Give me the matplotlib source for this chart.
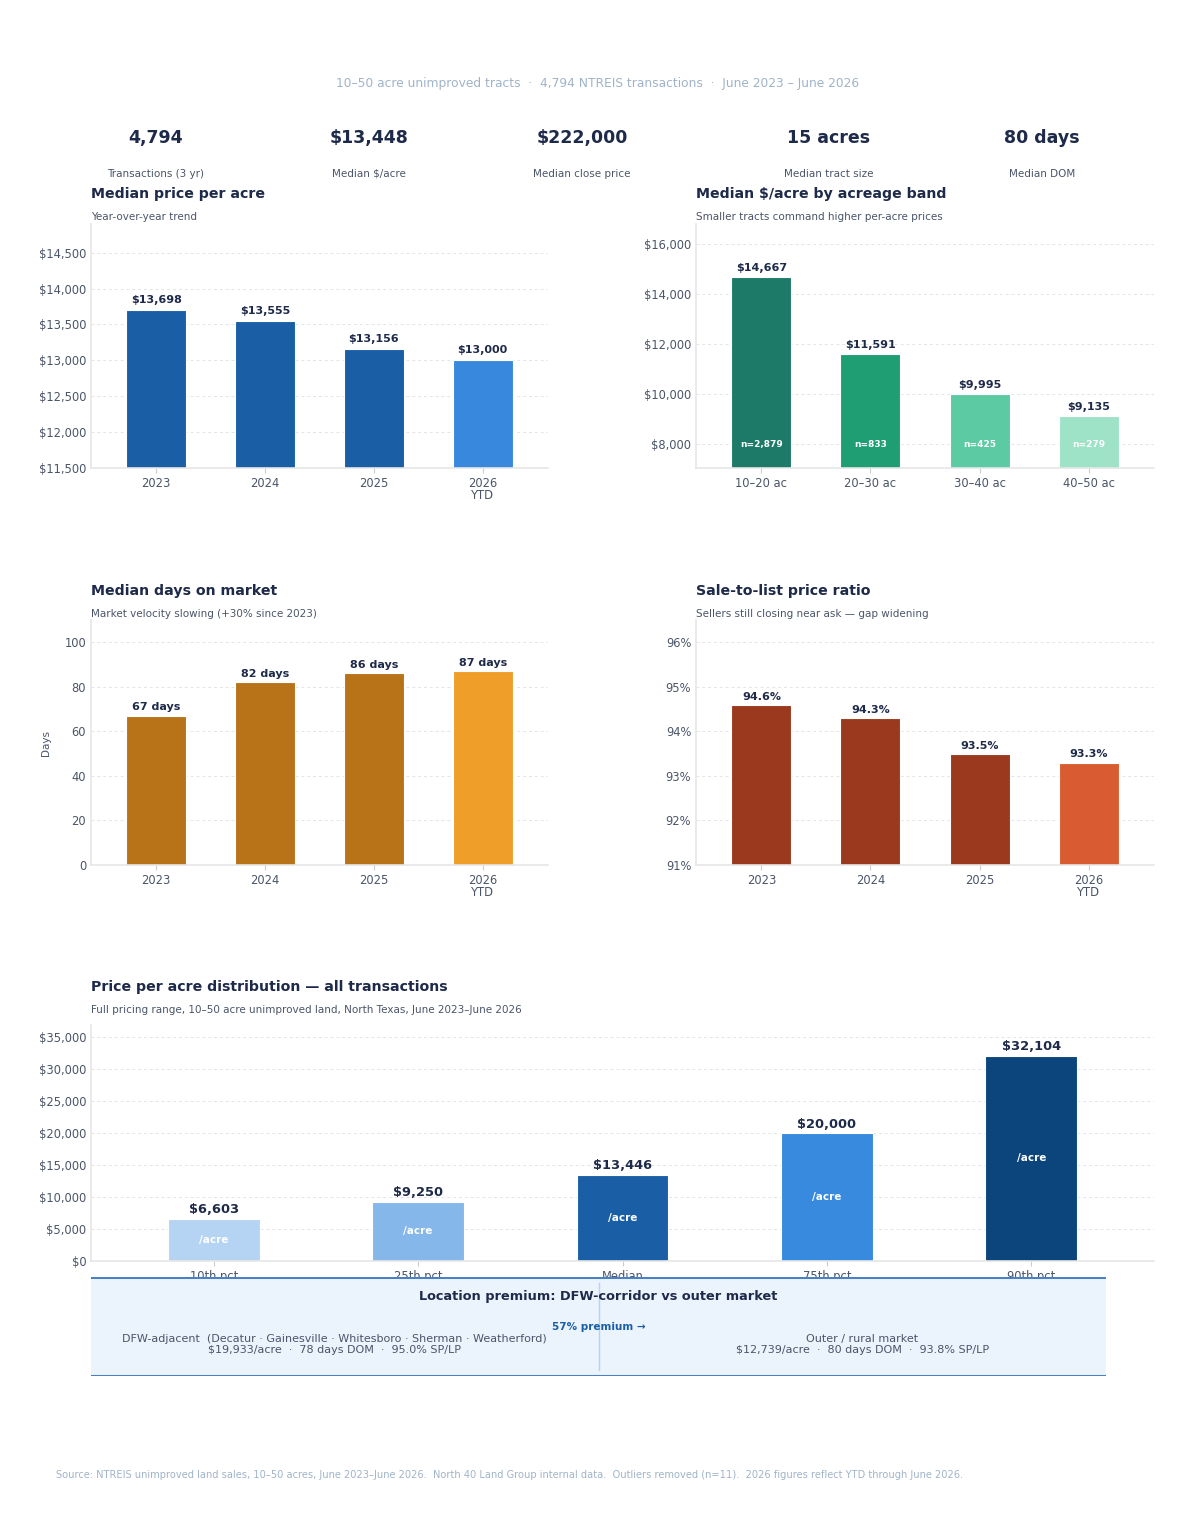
import numpy as np
import matplotlib.pyplot as plt
from matplotlib.ticker import FuncFormatter
from matplotlib.patches import Rectangle
from matplotlib.lines import Line2D

# ---- data ----
years = ['2023', '2024', '2025', '2026\nYTD']
ppa_year = [13698, 13555, 13156, 13000]

bands = ['10–20 ac', '20–30 ac', '30–40 ac', '40–50 ac']
ppa_band = [14667, 11591, 9995, 9135]
band_n = ['n=2,879', 'n=833', 'n=425', 'n=279']

dom_year = [67, 82, 86, 87]
sp_lp = [94.6, 94.3, 93.5, 93.3]

pcts = ['10th pct', '25th pct', 'Median', '75th pct', '90th pct']
pct_vals = [6603, 9250, 13446, 20000, 32104]

kpi_vals = ['4,794', '$13,448', '$222,000', '15 acres', '80 days']
kpi_labels = ['Transactions (3 yr)', 'Median $/acre', 'Median close price',
              'Median tract size', 'Median DOM']

NAVY = '#1e2a4a'
GRAY = '#4a5568'
LIGHT = '#a0b4c8'

W, H = 1198, 1536
fig = plt.figure(figsize=(W / 100, H / 100), dpi=100)


def px(x0, y0, x1, y1):
    # pixel box -> figure fraction rect
    return [x0 / W, 1 - y1 / H, (x1 - x0) / W, (y1 - y0) / H]


def style(ax):
    for s in ['top', 'right']:
        ax.spines[s].set_visible(False)
    for s in ['left', 'bottom']:
        ax.spines[s].set_color('#e6e6e6')
        ax.spines[s].set_linewidth(1.2)
    ax.tick_params(axis='both', colors='#cccccc', labelcolor=GRAY, labelsize=8.3)
    ax.tick_params(axis='y', length=0)
    ax.tick_params(axis='x', pad=3)
    ax.grid(axis='y', linestyle=(0, (3, 3)), color='#e4e4e4', linewidth=0.7)
    ax.set_axisbelow(True)


def header(x, y, title, sub):
    fig.text(x / W, 1 - y / H, title, fontsize=10.2, fontweight='bold', color=NAVY, va='center')
    fig.text(x / W, 1 - (y + 23) / H, sub, fontsize=7.5, color=GRAY, va='center')


# top subtitle
fig.text(598 / W, 1 - 84 / H,
         '10–50 acre unimproved tracts  ·  4,794 NTREIS transactions  ·  June 2023 – June 2026',
         fontsize=8.8, color=LIGHT, ha='center', va='center')

kpi_x = [156, 369, 582, 829, 1042]
for x, v, l in zip(kpi_x, kpi_vals, kpi_labels):
    fig.text(x / W, 1 - 138 / H, v, fontsize=12.5, fontweight='bold', color=NAVY, ha='center', va='center')
    fig.text(x / W, 1 - 174 / H, l, fontsize=7.5, color=GRAY, ha='center', va='center')

money = FuncFormatter(lambda v, p: '${:,.0f}'.format(v))

# ---- chart 1 ----
header(91, 194, 'Median price per acre', 'Year-over-year trend')
ax1 = fig.add_axes(px(91, 224, 548, 468))
c1 = ['#1a5fa6'] * 3 + ['#3889dd']
ax1.bar(range(4), ppa_year, width=0.55, color=c1, edgecolor='white', linewidth=0.8)
for i, v in enumerate(ppa_year):
    ax1.text(i, v + 70, '${:,}'.format(v), ha='center', va='bottom', fontsize=8, fontweight='bold', color=NAVY)
ax1.set_ylim(11500, 14900)
ax1.set_yticks(np.arange(11500, 14501, 500))
ax1.yaxis.set_major_formatter(money)
ax1.set_xlim(-0.6, 3.6)
ax1.set_xticks(range(4))
ax1.set_xticklabels(years, linespacing=0.9)
style(ax1)

# ---- chart 2 ----
header(696, 194, 'Median $/acre by acreage band', 'Smaller tracts command higher per-acre prices')
ax2 = fig.add_axes(px(696, 224, 1154, 468))
c2 = ['#1d7a68', '#1f9e74', '#5ccaa3', '#9ee2c8']
ax2.bar(range(4), ppa_band, width=0.55, color=c2, edgecolor='white', linewidth=0.8)
for i, v in enumerate(ppa_band):
    ax2.text(i, v + 170, '${:,}'.format(v), ha='center', va='bottom', fontsize=8, fontweight='bold', color=NAVY)
    ax2.text(i, 8000, band_n[i], ha='center', va='center', fontsize=6.5, fontweight='bold', color='white')
ax2.set_ylim(7050, 16800)
ax2.set_yticks(np.arange(8000, 16001, 2000))
ax2.yaxis.set_major_formatter(money)
ax2.set_xlim(-0.6, 3.6)
ax2.set_xticks(range(4))
ax2.set_xticklabels(bands)
style(ax2)

# ---- chart 3 ----
header(91, 591, 'Median days on market', 'Market velocity slowing (+30% since 2023)')
ax3 = fig.add_axes(px(91, 620, 548, 865))
c3 = ['#b87318'] * 3 + ['#f09e2a']
ax3.bar(range(4), dom_year, width=0.55, color=c3, edgecolor='white', linewidth=0.8)
for i, v in enumerate(dom_year):
    ax3.text(i, v + 1.5, '{} days'.format(v), ha='center', va='bottom', fontsize=8, fontweight='bold', color=NAVY)
ax3.set_ylim(0, 110)
ax3.set_yticks(np.arange(0, 101, 20))
ax3.set_ylabel('Days', fontsize=7.5, color=GRAY, labelpad=10)
ax3.set_xlim(-0.6, 3.6)
ax3.set_xticks(range(4))
ax3.set_xticklabels(years, linespacing=0.9)
style(ax3)

# ---- chart 4 ----
header(696, 591, 'Sale-to-list price ratio', 'Sellers still closing near ask — gap widening')
ax4 = fig.add_axes(px(696, 620, 1154, 865))
c4 = ['#9a391d'] * 3 + ['#d95b32']
ax4.bar(range(4), sp_lp, width=0.55, color=c4, edgecolor='white', linewidth=0.8)
for i, v in enumerate(sp_lp):
    ax4.text(i, v + 0.07, '{:.1f}%'.format(v), ha='center', va='bottom', fontsize=8, fontweight='bold', color=NAVY)
ax4.set_ylim(91, 96.5)
ax4.set_yticks(np.arange(91, 96.1, 1))
ax4.yaxis.set_major_formatter(FuncFormatter(lambda v, p: '{:.0f}%'.format(v)))
ax4.set_xlim(-0.6, 3.6)
ax4.set_xticks(range(4))
ax4.set_xticklabels(years, linespacing=0.9)
style(ax4)

# ---- chart 5 ----
header(91, 987, 'Price per acre distribution — all transactions',
       'Full pricing range, 10–50 acre unimproved land, North Texas, June 2023–June 2026')
ax5 = fig.add_axes(px(91, 1025, 1154, 1261))
c5 = ['#b5d4f4', '#85b7eb', '#1a5fa6', '#378add', '#0c447c']
ax5.bar(range(5), pct_vals, width=0.45, color=c5, edgecolor='white', linewidth=0.8)
for i, v in enumerate(pct_vals):
    ax5.text(i, v + 400, '${:,}'.format(v), ha='center', va='bottom', fontsize=9.4, fontweight='bold', color=NAVY)
    ax5.text(i, v / 2, '/acre', ha='center', va='center',
             fontsize=7.5, fontweight='bold', color='white')
ax5.set_ylim(0, 36900)
ax5.set_yticks(np.arange(0, 35001, 5000))
ax5.yaxis.set_major_formatter(money)
ax5.set_xlim(-0.6, 4.6)
ax5.set_xticks(range(5))
ax5.set_xticklabels(pcts)
style(ax5)

# ---- location premium box ----
box = fig.add_axes(px(91, 1277, 1106, 1376))
box.set_xlim(0, 1)
box.set_ylim(0, 1)
box.axis('off')
box.add_patch(Rectangle((0, 0), 1, 1, facecolor='#ebf3fd', edgecolor='none', transform=box.transAxes))
box.add_line(Line2D([0, 1], [1, 1], color='#4a80c4', linewidth=2.2, transform=box.transAxes))
box.add_line(Line2D([0, 1], [0, 0], color='#4a80c4', linewidth=2.2, transform=box.transAxes))
box.add_line(Line2D([0.5, 0.5], [0.06, 0.94], color='#b5d4f4', linewidth=1, transform=box.transAxes))
box.text(0.5, 0.80, 'Location premium: DFW-corridor vs outer market', ha='center', va='center',
         fontsize=9.3, fontweight='bold', color=NAVY)
box.text(0.5, 0.50, '57% premium →', ha='center', va='center', fontsize=7.5, fontweight='bold', color='#1a5fa6')
box.text(0.24, 0.32, 'DFW-adjacent  (Decatur · Gainesville · Whitesboro · Sherman · Weatherford)\n'
         '$19,933/acre  ·  78 days DOM  ·  95.0% SP/LP', ha='center', va='center',
         fontsize=8, color=GRAY, linespacing=1.15)
box.text(0.76, 0.32, 'Outer / rural market\n$12,739/acre  ·  80 days DOM  ·  93.8% SP/LP',
         ha='center', va='center', fontsize=8, color=GRAY, linespacing=1.15)

# footer
fig.text(56 / W, 1 - 1475 / H,
         'Source: NTREIS unimproved land sales, 10–50 acres, June 2023–June 2026.  North 40 Land Group internal data.  '
         'Outliers removed (n=11).  2026 figures reflect YTD through June 2026.',
         fontsize=7.1, color=LIGHT, va='center')

fig.savefig('out.png', dpi=100, facecolor='white')
